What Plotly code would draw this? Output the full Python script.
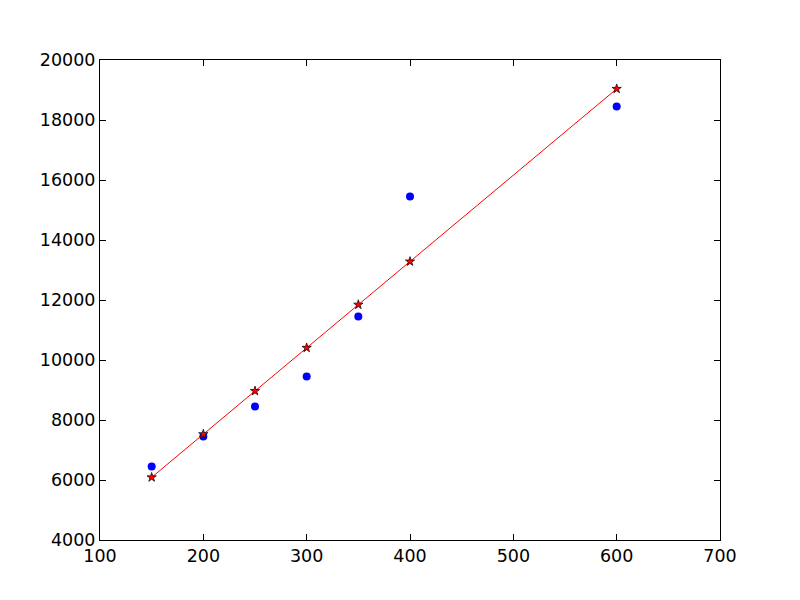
import plotly.graph_objects as go

square_feet = [150, 200, 250, 300, 350, 400, 600]
price = [6450, 7450, 8450, 9450, 11450, 15450, 18450]
predicted = [6088, 7527, 8966, 10405, 11844, 13283, 19038]

x_ticks = [100, 200, 300, 400, 500, 600, 700]
y_ticks = [4000, 6000, 8000, 10000, 12000, 14000, 16000, 18000, 20000]

fig = go.Figure()
fig.add_trace(go.Scatter(
    x=square_feet, y=price, mode="markers",
    marker=dict(color="#0000ff", size=8, line=dict(width=0)),
    showlegend=False,
))
fig.add_trace(go.Scatter(
    x=square_feet, y=predicted, mode="lines+markers",
    line=dict(color="#ff0000", width=1),
    marker=dict(symbol="star", color="#ff0000", size=7, line=dict(color="black", width=0.7)),
    showlegend=False,
))

axis_common = dict(
    showline=True, linecolor="black", linewidth=1, mirror="allticks",
    ticks="inside", ticklen=6, tickcolor="black", tickwidth=1,
    showgrid=False, zeroline=False,
    tickfont=dict(family="DejaVu Sans", size=17.5, color="black"),
)
fig.update_layout(
    width=792, height=592,
    margin=dict(l=92, r=80, t=52, b=60),
    paper_bgcolor="white", plot_bgcolor="white",
    xaxis=dict(range=[100, 700], tickvals=x_ticks, ticktext=[str(v) for v in x_ticks], **axis_common),
    yaxis=dict(range=[4000, 20000], tickvals=y_ticks, ticktext=[str(v) for v in y_ticks], **axis_common),
)
fig.write_html("out.html")
